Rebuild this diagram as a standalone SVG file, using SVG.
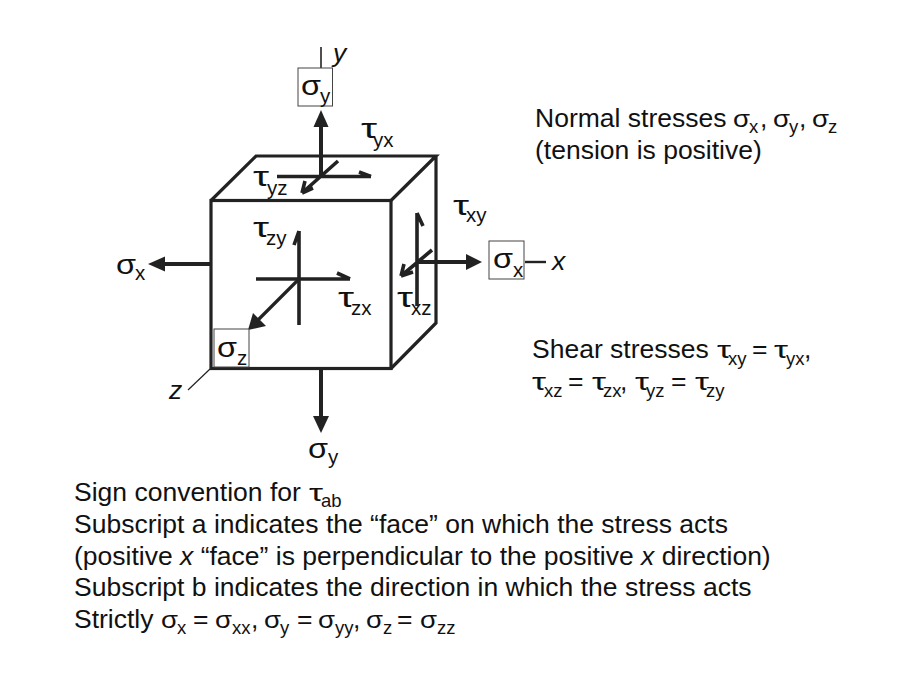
<svg xmlns="http://www.w3.org/2000/svg" width="897" height="680" viewBox="0 0 897 680">
<style>
text{font-family:"Liberation Sans",Arial,sans-serif;fill:#111}
.b{font-size:26.5px}
.g{font-size:23px}
.sub{font-size:20.500px}
.s2{font-size:18.500px}
.t{font-size:27px}
.i{font-style:italic}
.cube{fill:none;stroke:#222;stroke-width:3.2;stroke-linejoin:miter}
.thick{fill:none;stroke:#222;stroke-width:4}
.shear{fill:none;stroke:#222;stroke-width:3.6}
.box{fill:#fff;stroke:#444;stroke-width:1}
.ah{fill:#222;stroke:none}
</style>
<rect width="897" height="680" fill="#fff"/>
<g id="connectors">
<path class="thick" d="M321 47V68" style="stroke-width:1.6"/>
<path class="thick" d="M210 369L188 390" style="stroke-width:1.2"/>
<path class="thick" d="M525 262H546" style="stroke-width:2.4"/>
<path class="thick" d="M321 122V178"/><path class="ah" d="M321 110L313.500 127H328.500Z"/>
<path class="thick" d="M211 264H163"/><path class="ah" d="M148 264L165 256.500V271.500Z"/>
<path class="thick" d="M417 262H470"/><path class="ah" d="M482 262L466 254V270Z"/>
<path class="thick" d="M321 369V418"/><path class="ah" d="M321 433L313 416H329Z"/>
<path class="thick" d="M299 279L256 322" style="stroke-width:3.2"/><path class="ah" d="M248 330L253 313L266 326Z"/>
</g>
<g id="cube">
<rect class="cube" x="211" y="200.500" width="180" height="168"/>
<path class="cube" d="M211 200.500L256 156H436L391 200.500M436 156V323L391 368.500"/>
</g>
<g id="shear-top">
<path class="shear" d="M277 176.500H371M359 172L371 176.500M338 161L302 193M302 193L305 181M302 193L313 188"/>
</g>
<g id="shear-front">
<path class="shear" d="M256 279H350M337 273L350 279M299 325V231M299 231L294 245"/>
</g>
<g id="shear-right">
<path class="shear" d="M417 306V213M417 213L423 226M432 250L401 276M401 276L404 264M401 276L413 272"/>
</g>
<g id="label-y-axis"><text class="b i" x="333" y="62">y</text></g>
<g id="node-sigma-y"><rect class="box" x="298" y="68" width="34.500" height="38"/><text class="t" x="301" y="95" textLength="20" lengthAdjust="spacingAndGlyphs">σ</text><text class="sub" x="320" y="103">y</text></g>
<g id="node-sigma-x"><rect class="box" x="489" y="241" width="35" height="38"/><text class="t" x="493" y="268" textLength="20" lengthAdjust="spacingAndGlyphs">σ</text><text class="sub" x="513" y="277">x</text></g>
<g id="node-sigma-z"><rect class="box" x="214" y="329" width="35" height="38"/><text class="t" x="217" y="357" textLength="20" lengthAdjust="spacingAndGlyphs">σ</text><text class="sub" x="237" y="365">z</text></g>
<g id="label-x-axis"><text class="b i" x="552" y="270">x</text></g>
<g id="label-z-axis"><text class="b i" x="169" y="399">z</text></g>
<g id="label-sigma-x-left"><text class="t" x="116" y="274" textLength="20" lengthAdjust="spacingAndGlyphs">σ</text><text class="sub" x="135" y="280">x</text></g>
<g id="label-sigma-y-bottom"><text class="t" x="308" y="458" textLength="20" lengthAdjust="spacingAndGlyphs">σ</text><text class="sub" x="328" y="464">y</text></g>
<g id="label-tau-yx"><text class="t" x="361" y="138" textLength="16" lengthAdjust="spacingAndGlyphs">τ</text><text class="sub" x="373" y="147">yx</text></g>
<g id="label-tau-yz"><text class="t" x="253" y="186" textLength="16" lengthAdjust="spacingAndGlyphs">τ</text><text class="sub" x="267" y="195">yz</text></g>
<g id="label-tau-zy"><text class="t" x="253" y="237" textLength="16" lengthAdjust="spacingAndGlyphs">τ</text><text class="sub" x="266" y="245">zy</text></g>
<g id="label-tau-zx"><text class="t" x="338" y="307" textLength="16" lengthAdjust="spacingAndGlyphs">τ</text><text class="sub" x="351" y="315">zx</text></g>
<g id="label-tau-xy"><text class="t" x="453" y="215" textLength="16" lengthAdjust="spacingAndGlyphs">τ</text><text class="sub" x="466" y="222">xy</text></g>
<g id="label-tau-xz"><text class="t" x="397" y="307" textLength="16" lengthAdjust="spacingAndGlyphs">τ</text><text class="sub" x="411" y="315">xz</text></g>
<g id="note-normal">
<text class="b" x="535" y="127">Normal stresses <tspan class="g" x="733" textLength="17" lengthAdjust="spacingAndGlyphs">σ</tspan><tspan class="s2" x="749" dy="6">x</tspan><tspan x="760" dy="-6">,</tspan><tspan class="g" x="773" textLength="17" lengthAdjust="spacingAndGlyphs">σ</tspan><tspan class="s2" x="789" dy="6">y</tspan><tspan x="799" dy="-6">,</tspan><tspan class="g" x="812" textLength="17" lengthAdjust="spacingAndGlyphs">σ</tspan><tspan class="s2" x="828" dy="6">z</tspan></text>
<text class="b" x="535" y="159">(tension is positive)</text>
</g>
<g id="note-shear">
<text class="b" x="532" y="358">Shear stresses <tspan class="g" x="717" textLength="14" lengthAdjust="spacingAndGlyphs">τ</tspan><tspan class="s2" x="728" dy="7">xy</tspan><tspan x="752" dy="-7">=</tspan><tspan class="g" x="774" textLength="14" lengthAdjust="spacingAndGlyphs">τ</tspan><tspan class="s2" x="786" dy="7">yx</tspan><tspan x="804" dy="-7">,</tspan></text>
<text class="b" x="532" y="390"><tspan class="g" x="532" textLength="14" lengthAdjust="spacingAndGlyphs">τ</tspan><tspan class="s2" x="544" dy="7">xz</tspan><tspan x="568" dy="-7">=</tspan><tspan class="g" x="592" textLength="14" lengthAdjust="spacingAndGlyphs">τ</tspan><tspan class="s2" x="603" dy="7">zx</tspan><tspan x="620" dy="-7">,</tspan><tspan class="g" x="635" textLength="14" lengthAdjust="spacingAndGlyphs">τ</tspan><tspan class="s2" x="646" dy="7">yz</tspan><tspan x="671" dy="-7">=</tspan><tspan class="g" x="695" textLength="14" lengthAdjust="spacingAndGlyphs">τ</tspan><tspan class="s2" x="706" dy="7">zy</tspan></text>
</g>
<g id="note-sign">
<text class="b" x="74" y="501">Sign convention for <tspan class="g" x="309" textLength="14" lengthAdjust="spacingAndGlyphs">τ</tspan><tspan class="s2" x="321" dy="6">ab</tspan></text>
<text class="b" x="74" y="533">Subscript a indicates the “face” on which the stress acts</text>
<text class="b" x="74" y="565">(positive <tspan class="i">x</tspan> “face” is perpendicular to the positive <tspan class="i">x</tspan> direction)</text>
<text class="b" x="74" y="596">Subscript b indicates the direction in which the stress acts</text>
<text class="b" x="74" y="628">Strictly <tspan class="g" x="161" textLength="17" lengthAdjust="spacingAndGlyphs">σ</tspan><tspan class="s2" x="177" dy="6">x</tspan><tspan x="193" dy="-6">=</tspan><tspan class="g" x="215" textLength="17" lengthAdjust="spacingAndGlyphs">σ</tspan><tspan class="s2" x="232" dy="6">xx</tspan><tspan x="251" dy="-6">,</tspan><tspan class="g" x="264" textLength="17" lengthAdjust="spacingAndGlyphs">σ</tspan><tspan class="s2" x="280" dy="6">y</tspan><tspan x="297" dy="-6">=</tspan><tspan class="g" x="318" textLength="17" lengthAdjust="spacingAndGlyphs">σ</tspan><tspan class="s2" x="335" dy="6">yy</tspan><tspan x="353" dy="-6">,</tspan><tspan class="g" x="366" textLength="17" lengthAdjust="spacingAndGlyphs">σ</tspan><tspan class="s2" x="383" dy="6">z</tspan><tspan x="397" dy="-6">=</tspan><tspan class="g" x="420" textLength="17" lengthAdjust="spacingAndGlyphs">σ</tspan><tspan class="s2" x="437" dy="6">zz</tspan></text>
</g>
</svg>
